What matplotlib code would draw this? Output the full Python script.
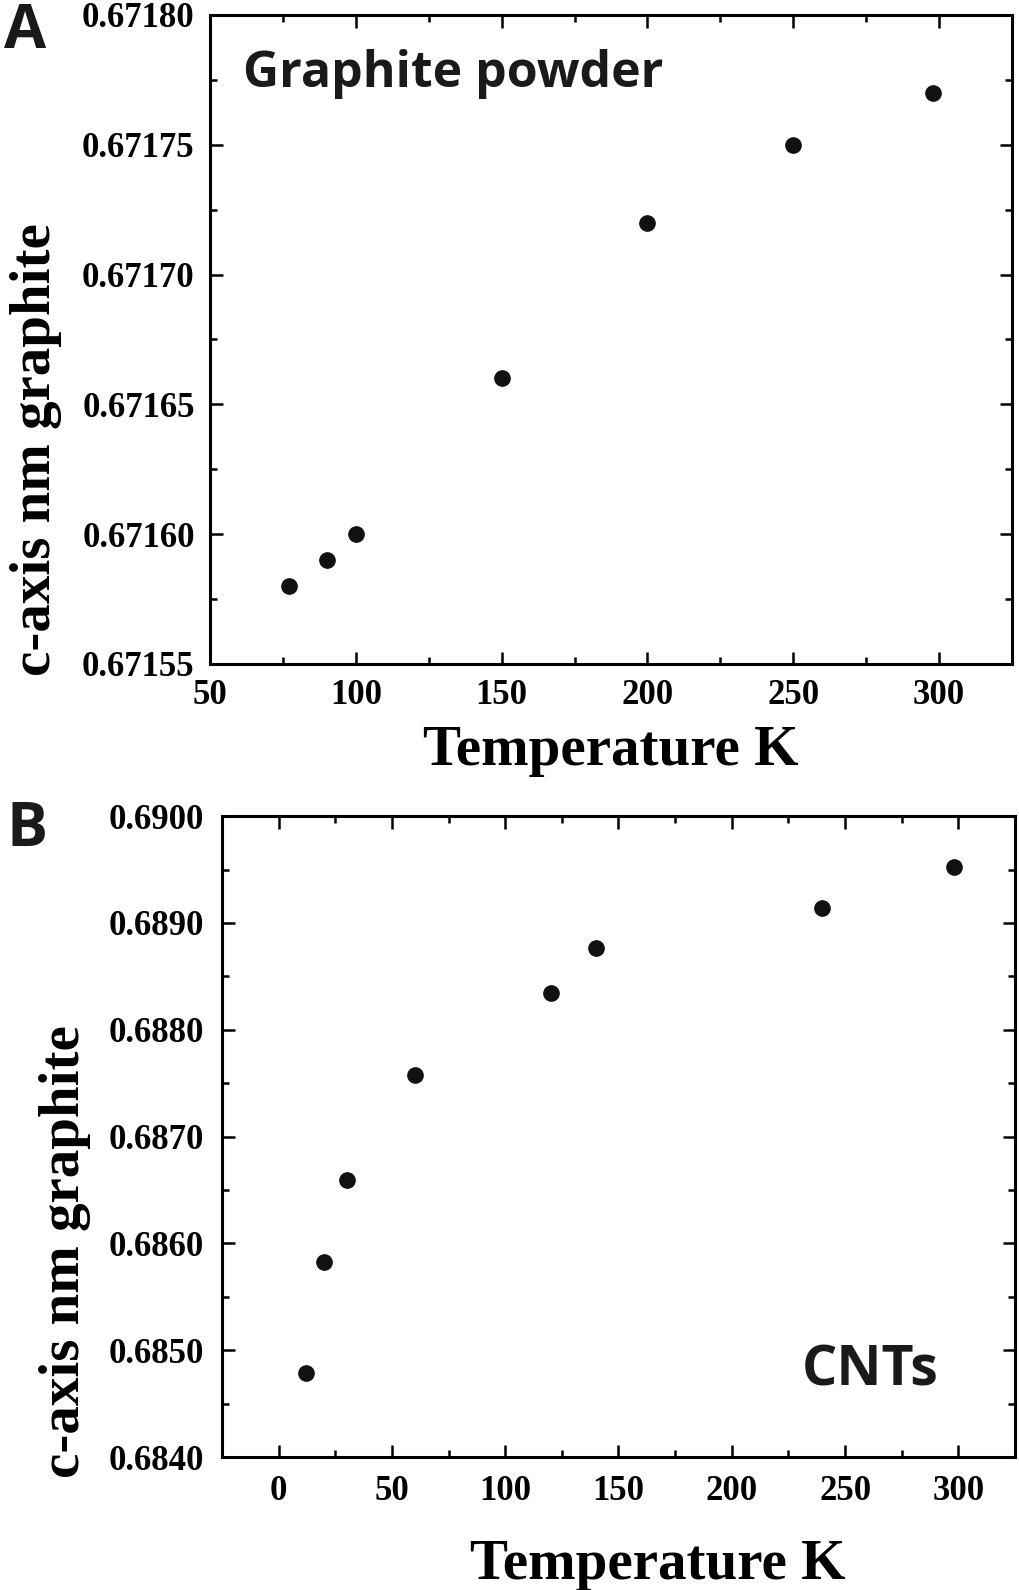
import matplotlib
matplotlib.use("Agg")
import matplotlib.pyplot as plt
from matplotlib.ticker import MultipleLocator, FormatStrFormatter

# panel A: graphite powder
temp_a = [77, 90, 100, 150, 200, 250, 298]
caxis_a = [0.67158, 0.67159, 0.67160, 0.67166, 0.67172, 0.67175, 0.67177]

# panel B: CNTs
temp_b = [12, 20, 30, 60, 120, 140, 240, 298]
caxis_b = [0.68479, 0.68583, 0.68659, 0.68758, 0.68834, 0.68877, 0.68914, 0.68952]

serif = "Liberation Serif"
sans = ["Open Sans", "DejaVu Sans"]


def style_axes(ax, pad):
    for s in ax.spines.values():
        s.set_linewidth(2.2)
    ax.tick_params(which="both", direction="in", top=True, right=True, width=1.8)
    ax.tick_params(which="major", length=9, labelsize=25, pad=pad)
    ax.tick_params(which="minor", length=5)
    for lab in ax.get_xticklabels() + ax.get_yticklabels():
        lab.set_fontfamily(serif)
        lab.set_fontweight("bold")


fig = plt.figure(figsize=(10.2, 15.9), dpi=100)

ax1 = fig.add_axes([0.2059, 0.5824, 0.7863, 0.4082])
ax1.plot(temp_a, caxis_a, "o", color="#111111", markersize=11)
ax1.set_xlim(50, 325)
ax1.set_ylim(0.67155, 0.67180)
ax1.xaxis.set_major_locator(MultipleLocator(50))
ax1.xaxis.set_minor_locator(MultipleLocator(25))
ax1.yaxis.set_major_locator(MultipleLocator(0.00005))
ax1.yaxis.set_minor_locator(MultipleLocator(0.000025))
ax1.yaxis.set_major_formatter(FormatStrFormatter("%.5f"))
style_axes(ax1, 11)
ax1.set_xlabel("Temperature K", fontsize=41, fontfamily=serif, fontweight="bold")
ax1.set_ylabel("c-axis nm graphite", fontsize=41, fontfamily=serif, fontweight="bold")
ax1.xaxis.set_label_coords(0.5, -0.094)
ax1.yaxis.set_label_coords(-0.185, 0.33)
ax1.text(0.041, 0.889, "Graphite powder", transform=ax1.transAxes, fontsize=36,
         fontfamily=sans, fontweight="bold", color="#1a1a1a", va="baseline")

ax2 = fig.add_axes([0.2176, 0.0836, 0.7775, 0.4031])
ax2.plot(temp_b, caxis_b, "o", color="#111111", markersize=11)
ax2.set_xlim(-25, 325)
ax2.set_ylim(0.6840, 0.6900)
ax2.xaxis.set_major_locator(MultipleLocator(50))
ax2.xaxis.set_minor_locator(MultipleLocator(25))
ax2.yaxis.set_major_locator(MultipleLocator(0.001))
ax2.yaxis.set_minor_locator(MultipleLocator(0.0005))
ax2.yaxis.set_major_formatter(FormatStrFormatter("%.4f"))
style_axes(ax2, 13)
ax2.set_xlabel("Temperature K", fontsize=41, fontfamily=serif, fontweight="bold")
ax2.set_ylabel("c-axis nm graphite", fontsize=41, fontfamily=serif, fontweight="bold")
ax2.xaxis.set_label_coords(0.55, -0.128)
ax2.yaxis.set_label_coords(-0.165, 0.32)
ax2.text(0.731, 0.112, "CNTs", transform=ax2.transAxes, fontsize=40,
         fontfamily=sans, fontweight="bold", color="#1a1a1a", va="baseline")

fig.text(0.004, 0.999, "A", fontsize=44, fontfamily=sans, fontweight="bold",
         color="#1a1a1a", va="top")
fig.text(0.006, 0.497, "B", fontsize=44, fontfamily=sans, fontweight="bold",
         color="#1a1a1a", va="top")

fig.savefig("out.png", dpi=100)
